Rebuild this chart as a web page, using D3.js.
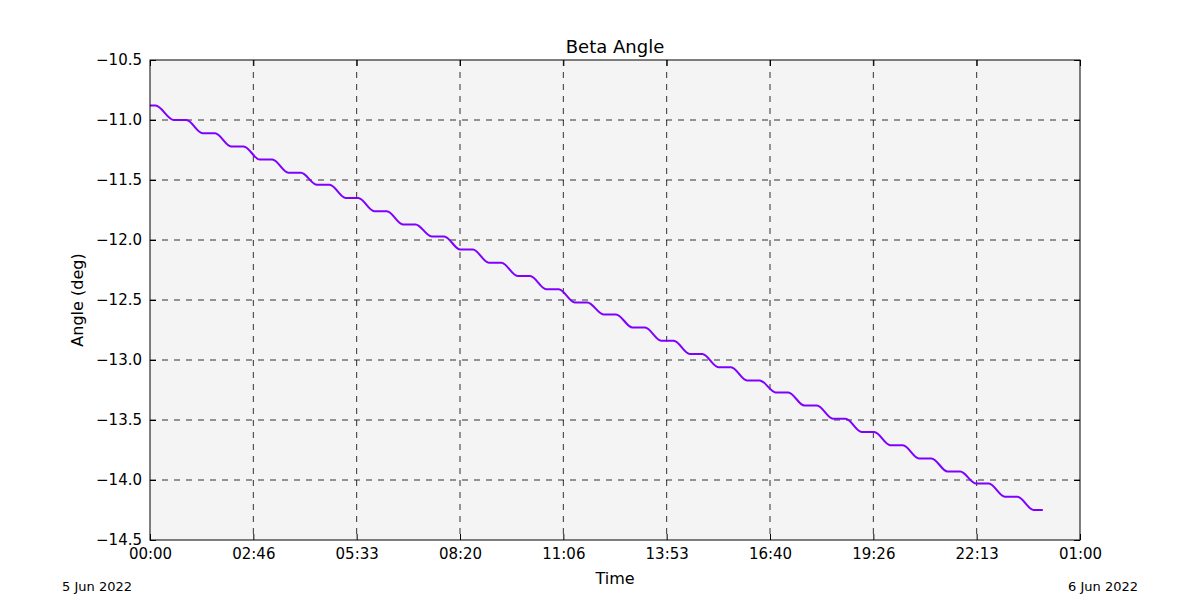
<!DOCTYPE html>
<html><head><meta charset="utf-8">
<script src="https://cdn.jsdelivr.net/npm/d3@7"></script>
<style>body{margin:0;background:#fff}text{font-family:"DejaVu Sans",sans-serif}</style>
</head><body><div id="chart"></div>
<script>
// flat-step centres of the beta angle curve (hours since 5 Jun 00:00, degrees)
const stepTimes = [0.81,1.58,2.35,3.12,3.89,4.66,5.43,6.20,6.97,7.74,8.51,9.28,10.05,10.82,11.59,12.36,13.14,13.91,14.68,15.45,16.22,16.99,17.76,18.53,19.30,20.07,20.84,21.61,22.38,23.15,23.92];
const stepAngles = [-11.00,-11.11,-11.22,-11.33,-11.44,-11.54,-11.65,-11.76,-11.87,-11.97,-12.08,-12.19,-12.30,-12.41,-12.52,-12.62,-12.73,-12.84,-12.95,-13.06,-13.17,-13.27,-13.38,-13.49,-13.60,-13.71,-13.82,-13.93,-14.03,-14.14,-14.25];
const startPoint = [0, -10.88];
const xTickLabels = ["00:00","02:46","05:33","08:20","11:06","13:53","16:40","19:26","22:13","01:00"];
const yTicks = [-10.5,-11.0,-11.5,-12.0,-12.5,-13.0,-13.5,-14.0,-14.5];

const W = 1200, H = 600, m = {top: 60, right: 120, bottom: 60, left: 150};
const w = W - m.left - m.right, h = H - m.top - m.bottom;

const svg = d3.select("#chart").append("svg").attr("width", W).attr("height", H);
const g = svg.append("g").attr("transform", `translate(${m.left},${m.top})`);

const x = d3.scaleLinear().domain([0, 25]).range([0, w]);
const y = d3.scaleLinear().domain([-14.5, -10.5]).range([h, 0]);
const xTicks = xTickLabels.map((_, i) => i * 25 / 9);

g.append("rect").attr("width", w).attr("height", h).attr("fill", "#f4f4f4");

// grid
g.selectAll(".gx").data(xTicks.slice(1, -1)).enter().append("line")
  .attr("x1", d => x(d)).attr("x2", d => x(d)).attr("y1", 0).attr("y2", h)
  .attr("stroke", "#000").attr("stroke-dasharray", "6,6").attr("stroke-width", 0.8);
g.selectAll(".gy").data(yTicks.slice(1, -1)).enter().append("line")
  .attr("y1", d => y(d)).attr("y2", d => y(d)).attr("x1", 0).attr("x2", w)
  .attr("stroke", "#000").attr("stroke-dasharray", "6,6").attr("stroke-width", 0.8);

// line data: start and end of each flat step
const pts = [startPoint, [0.15, startPoint[1]]];
stepTimes.forEach((t, i) => {
  const last = i === stepTimes.length - 1;
  pts.push([t - 0.17, stepAngles[i]]);
  pts.push([last ? t + 0.08 : t + 0.17, stepAngles[i]]);
});
g.append("path").datum(pts)
  .attr("fill", "none").attr("stroke", "#8000ff").attr("stroke-width", 2)
  .attr("d", d3.line().x(d => x(d[0])).y(d => y(d[1])).curve(d3.curveMonotoneX));

// axes with inward ticks
const fmtY = d => d3.format(".1f")(d).replace("-", "\u2212");
const ax = g.append("g").attr("transform", `translate(0,${h})`)
  .call(d3.axisBottom(x).tickValues(xTicks).tickFormat((d, i) => xTickLabels[i]).tickSizeInner(-6).tickSizeOuter(0).tickPadding(8));
const ay = g.append("g")
  .call(d3.axisLeft(y).tickValues(yTicks).tickFormat(fmtY).tickSizeInner(-6).tickSizeOuter(0).tickPadding(8));
g.append("g").call(d3.axisTop(x).tickValues(xTicks).tickFormat("").tickSizeInner(-6).tickSizeOuter(0));
g.append("g").attr("transform", `translate(${w},0)`)
  .call(d3.axisRight(y).tickValues(yTicks).tickFormat("").tickSizeInner(-6).tickSizeOuter(0));
g.selectAll(".domain").remove();
g.selectAll(".tick text").attr("font-size", 15).attr("fill", "#000");
g.selectAll(".tick line").attr("stroke", "#000");
g.append("rect").attr("width", w).attr("height", h).attr("fill", "none").attr("stroke", "#000").attr("stroke-width", 1);

svg.append("text").attr("x", m.left + w / 2).attr("y", 53).attr("text-anchor", "middle").attr("font-size", 18).text("Beta Angle");
svg.append("text").attr("x", m.left + w / 2).attr("y", 584).attr("text-anchor", "middle").attr("font-size", 16).text("Time");
svg.append("text").attr("transform", `translate(83,${m.top + h / 2}) rotate(-90)`).attr("text-anchor", "middle").attr("font-size", 16).text("Angle (deg)");
svg.append("text").attr("x", 97).attr("y", 591).attr("text-anchor", "middle").attr("font-size", 13).text("5 Jun 2022");
svg.append("text").attr("x", 1103).attr("y", 591).attr("text-anchor", "middle").attr("font-size", 13).text("6 Jun 2022");
</script></body></html>
